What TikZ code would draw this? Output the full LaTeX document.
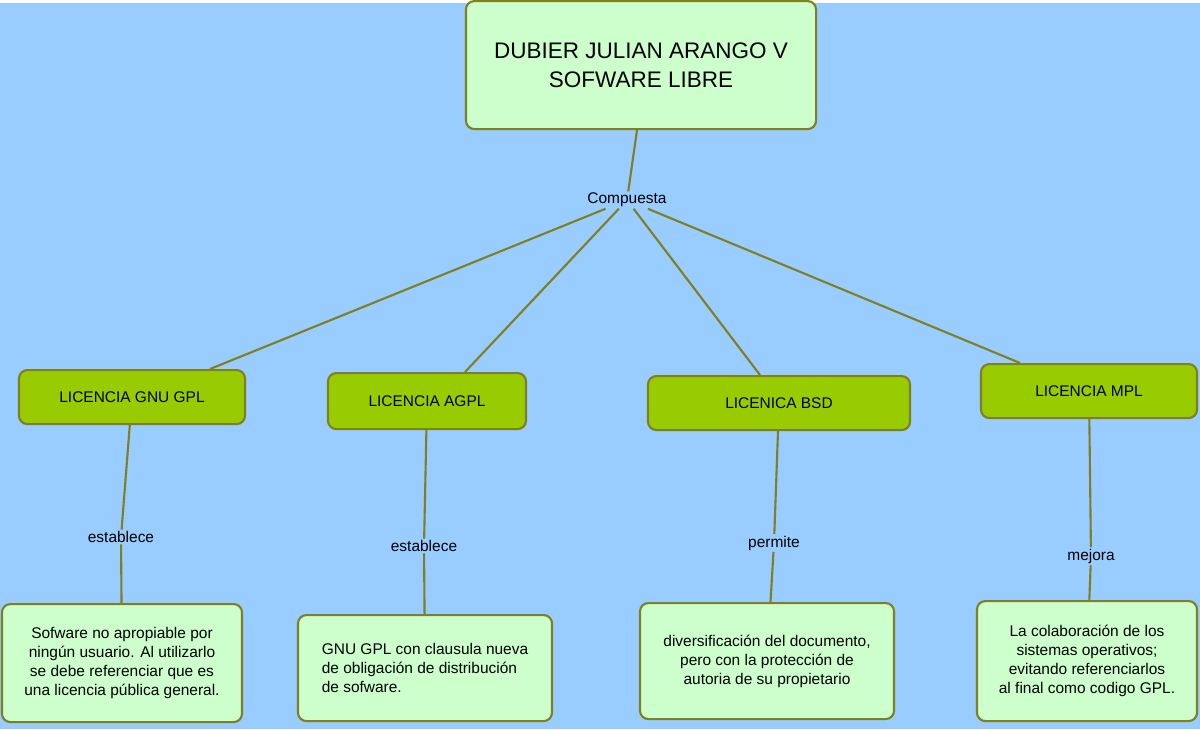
\documentclass[tikz,border=0pt]{standalone}
\usepackage{fontspec}
\setmainfont{Liberation Sans}
\usetikzlibrary{positioning,calc}
\definecolor{bg}{RGB}{153,204,255}
\definecolor{pale}{RGB}{204,255,204}
\definecolor{lime}{RGB}{153,204,0}
\definecolor{olive}{RGB}{128,128,32}
\tikzset{
  topbox/.style={draw=olive, line width=1.5pt, fill=pale, rounded corners=6pt, align=center, font=\fontsize{16}{21}\selectfont},
  licbox/.style={draw=olive, line width=1.5pt, fill=lime, rounded corners=6pt, font=\fontsize{11}{14}\selectfont},
  descbox/.style={draw=olive, line width=1.5pt, fill=pale, rounded corners=6pt, align=center, font=\fontsize{11}{13.5}\selectfont},
  link/.style={draw=olive, line width=1.5pt},
  linklabel/.style={fill=bg, inner sep=1pt, font=\fontsize{11}{14}\selectfont}
}
\begin{document}
\begin{tikzpicture}[x=0.025cm, y=-0.025cm]
    \fill[bg] (0,0) rectangle (1200,726);

    \node [topbox, minimum width=8.75cm, minimum height=3.2cm] (title) at (641,62) {DUBIER JULIAN ARANGO V\\SOFWARE LIBRE};
    \node [linklabel] (comp) at (627,197) {Compuesta};

    \node [licbox, minimum width=5.65cm, minimum height=1.35cm] (gnu) at (132,394) {LICENCIA GNU GPL};
    \node [licbox, minimum width=4.95cm, minimum height=1.4cm] (agpl) at (427,398) {LICENCIA AGPL};
    \node [licbox, minimum width=6.55cm, minimum height=1.35cm] (bsd) at (779,400) {LICENICA BSD};
    \node [licbox, minimum width=5.4cm, minimum height=1.35cm] (mpl) at (1089,388) {LICENCIA MPL};

    \node [linklabel] (est1) at (121,534) {establece};
    \node [linklabel] (est2) at (424,543) {establece};
    \node [linklabel] (perm) at (774,540) {permite};
    \node [linklabel] (mej) at (1091,553) {mejora};

    \node [descbox, minimum width=6cm, minimum height=2.95cm] (d1) at (122,660) {Sofware no apropiable por\\ningún usuario. Al utilizarlo\\se debe referenciar que es\\una licencia pública general.};
    \node [descbox, align=left, minimum width=6.35cm, minimum height=2.65cm] (d2) at (425,665) {GNU GPL con clausula nueva\\de obligación de distribución\\de sofware.};
    \node [descbox, minimum width=6.35cm, minimum height=2.9cm] (d3) at (767,658) {diversificación del documento,\\pero con la protección de\\autoria de su propietario};
    \node [descbox, minimum width=5.5cm, minimum height=3cm] (d4) at (1087,658) {La colaboración de los\\sistemas operativos;\\evitando referenciarlos\\al final como codigo GPL.};

    \draw[link] ($(title.south)+(-4,0)$) -- (comp);
    \draw[link] (comp) -- ($(gnu.north)+(78,0)$);
    \draw[link] (comp) -- ($(agpl.north)+(38,0)$);
    \draw[link] (comp) -- ($(bsd.north)+(-19,0)$);
    \draw[link] (comp) -- ($(mpl.north)+(-69,0)$);
    \draw[link] (gnu) -- (est1) -- (d1);
    \draw[link] (agpl) -- (est2) -- (d2);
    \draw[link] (bsd) -- (perm) -- (d3);
    \draw[link] (mpl) -- (mej) -- (d4);
\end{tikzpicture}
\end{document}
